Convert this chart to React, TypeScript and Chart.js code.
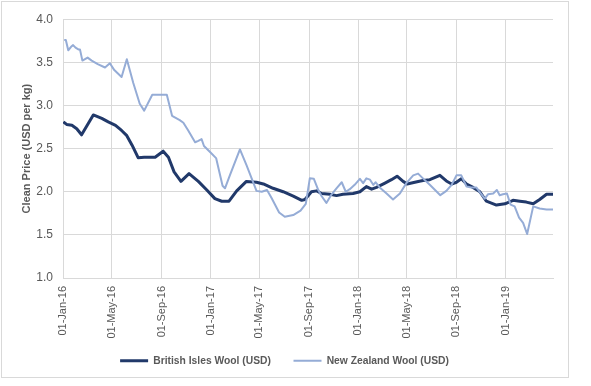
import React, { useEffect, useRef } from 'react';
import { Chart, registerables } from 'chart.js';

Chart.register(...registerables);

const biDates = [
  '2016-01-02', '2016-01-10', '2016-01-23', '2016-02-04', '2016-02-16', '2016-03-16', '2016-04-06', '2016-04-22',
  '2016-05-10', '2016-05-25', '2016-06-07', '2016-06-20', '2016-07-05', '2016-07-20', '2016-08-16', '2016-09-05',
  '2016-09-18', '2016-10-02', '2016-10-19', '2016-11-08', '2016-12-01', '2016-12-22', '2017-01-11', '2017-01-28',
  '2017-02-15', '2017-03-06', '2017-03-30', '2017-04-24', '2017-05-11', '2017-06-04', '2017-06-29', '2017-07-24',
  '2017-08-14', '2017-08-22', '2017-09-07', '2017-09-20', '2017-10-02', '2017-10-23', '2017-11-08', '2017-11-24',
  '2017-12-19', '2018-01-05', '2018-01-21', '2018-02-03', '2018-02-15', '2018-03-08', '2018-03-24', '2018-04-07',
  '2018-04-22', '2018-05-02', '2018-05-21', '2018-06-10', '2018-06-27', '2018-07-22', '2018-08-07', '2018-08-20',
  '2018-09-01', '2018-09-13', '2018-09-26', '2018-10-12', '2018-10-29', '2018-11-14', '2018-12-09', '2018-12-30',
  '2019-01-19', '2019-02-05', '2019-02-21', '2019-03-10', '2019-03-26', '2019-04-12', '2019-04-28',
];
const biValues = [
  2.81, 2.78, 2.77, 2.73, 2.66, 2.89, 2.85, 2.81,
  2.77, 2.71, 2.65, 2.54, 2.395, 2.40, 2.40, 2.47,
  2.40, 2.23, 2.12, 2.21, 2.12, 2.02, 1.92, 1.89,
  1.89, 2.01, 2.12, 2.11, 2.09, 2.04, 2.00, 1.95,
  1.90, 1.91, 2.00, 2.01, 1.98, 1.97, 1.955, 1.97,
  1.98, 2.00, 2.06, 2.03, 2.05, 2.10, 2.14, 2.18,
  2.12, 2.09, 2.11, 2.13, 2.14, 2.19, 2.125, 2.09,
  2.11, 2.15, 2.09, 2.05, 2.00, 1.89, 1.845, 1.86,
  1.90, 1.89, 1.88, 1.86, 1.91, 1.97, 1.97,
];

const nzDates = [
  '2016-01-04', '2016-01-08', '2016-01-14', '2016-01-21', '2016-01-26', '2016-02-01', '2016-02-08', '2016-02-12',
  '2016-02-18', '2016-03-02', '2016-03-12', '2016-03-27', '2016-04-14', '2016-04-26', '2016-05-07', '2016-05-25',
  '2016-06-07', '2016-06-23', '2016-07-09', '2016-07-20', '2016-08-09', '2016-09-14', '2016-09-27', '2016-10-16',
  '2016-10-25', '2016-11-06', '2016-11-23', '2016-12-01', '2016-12-09', '2016-12-15', '2016-12-30', '2017-01-14',
  '2017-01-30', '2017-02-05', '2017-02-17', '2017-03-14', '2017-03-30', '2017-04-12', '2017-04-24', '2017-05-07',
  '2017-05-20', '2017-05-31', '2017-06-19', '2017-07-03', '2017-07-24', '2017-08-11', '2017-08-24', '2017-09-03',
  '2017-09-13', '2017-09-24', '2017-10-02', '2017-10-14', '2017-10-27', '2017-11-08', '2017-11-21', '2017-12-01',
  '2017-12-11', '2017-12-23', '2018-01-05', '2018-01-13', '2018-01-21', '2018-01-30', '2018-02-07', '2018-02-13',
  '2018-02-23', '2018-03-12', '2018-03-28', '2018-04-14', '2018-04-30', '2018-05-17', '2018-05-29', '2018-06-10',
  '2018-06-27', '2018-07-23', '2018-08-07', '2018-08-20', '2018-09-01', '2018-09-13', '2018-09-26', '2018-10-08',
  '2018-10-20', '2018-11-02', '2018-11-10', '2018-11-18', '2018-12-01', '2018-12-10', '2018-12-17', '2018-12-25',
  '2019-01-04', '2019-01-13', '2019-01-23', '2019-02-03', '2019-02-13', '2019-02-23', '2019-03-10', '2019-03-26',
  '2019-04-12', '2019-04-28',
];
const nzValues = [
  3.76, 3.76, 3.64, 3.68, 3.70, 3.67, 3.65, 3.65,
  3.52, 3.555, 3.52, 3.48, 3.44, 3.49, 3.41, 3.33,
  3.535, 3.26, 3.02, 2.94, 3.125, 3.125, 2.88, 2.83,
  2.80, 2.71, 2.574, 2.59, 2.61, 2.53, 2.46, 2.39,
  2.07, 2.04, 2.19, 2.49, 2.31, 2.155, 2.01, 2.00,
  2.02, 1.93, 1.76, 1.71, 1.73, 1.78, 1.86, 2.155,
  2.15, 2.02, 1.95, 1.87, 1.97, 2.04, 2.11, 2.00,
  2.03, 2.08, 2.15, 2.10, 2.155, 2.14, 2.08, 2.11,
  2.05, 1.98, 1.91, 1.98, 2.10, 2.19, 2.21, 2.155,
  2.08, 1.96, 2.01, 2.08, 2.19, 2.19, 2.06, 2.05,
  2.05, 1.97, 1.92, 1.97, 1.98, 2.02, 1.96, 1.97,
  1.98, 1.85, 1.83, 1.70, 1.64, 1.51, 1.83, 1.805,
  1.795, 1.795,
];

const tickDates = [
  '2016-01-01', '2016-05-01', '2016-09-01', '2017-01-01', '2017-05-01',
  '2017-09-01', '2018-01-01', '2018-05-01', '2018-09-01', '2019-01-01',
];
const tickLabels = [
  '01-Jan-16', '01-May-16', '01-Sep-16', '01-Jan-17', '01-May-17',
  '01-Sep-17', '01-Jan-18', '01-May-18', '01-Sep-18', '01-Jan-19',
];
const xStart = '2016-01-01';
const xEnd = '2019-04-28';

const seriesNames = ['British Isles Wool (USD)', 'New Zealand Wool (USD)'];

const toDay = (s: string) => {
  const [y, m, d] = s.split('-').map(Number);
  const [y0, m0, d0] = xStart.split('-').map(Number);
  return Math.round((Date.UTC(y, m - 1, d) - Date.UTC(y0, m0 - 1, d0)) / 86400000);
};

const FONT = "'Liberation Sans', Arial, sans-serif";
const TEXT = '#595959';
const GRID = '#d9d9d9';
const BI_COLOR = '#21396a';
const NZ_COLOR = '#95acd6';

export default function App() {
  const ref = useRef<HTMLCanvasElement | null>(null);

  useEffect(() => {
    if (!ref.current) return;
    Chart.defaults.font.family = FONT;
    const tickDays = tickDates.map(toDay);
    const chart = new Chart(ref.current, {
      type: 'line',
      data: {
        datasets: [
          {
            label: seriesNames[0],
            data: biDates.map((d, i) => ({ x: toDay(d), y: biValues[i] })),
            borderColor: BI_COLOR,
            backgroundColor: BI_COLOR,
            borderWidth: 3,
            pointRadius: 0,
            tension: 0,
            borderJoinStyle: 'round',
            order: 1,
          },
          {
            label: seriesNames[1],
            data: nzDates.map((d, i) => ({ x: toDay(d), y: nzValues[i] })),
            borderColor: NZ_COLOR,
            backgroundColor: NZ_COLOR,
            borderWidth: 2,
            pointRadius: 0,
            tension: 0,
            borderJoinStyle: 'round',
            order: 0,
          },
        ],
      },
      options: {
        animation: false,
        responsive: false,
        layout: { padding: { left: 14, right: 14, top: 13, bottom: 0 } },
        plugins: {
          tooltip: { enabled: false },
          legend: {
            position: 'bottom',
            labels: {
              usePointStyle: true,
              pointStyle: 'line',
              pointStyleWidth: 28,
              padding: 14,
              color: TEXT,
              font: { family: FONT, size: 10.3, weight: 'bold' },
              sort: (a: any, b: any) => a.datasetIndex - b.datasetIndex,
              generateLabels: (c: any) => {
                const items = Chart.defaults.plugins.legend.labels.generateLabels(c);
                return items.map((it: any) =>
                  it.datasetIndex === 0 ? { ...it, text: it.text + '   ' } : it,
                );
              },
            },
          },
        },
        scales: {
          x: {
            type: 'linear',
            min: toDay(xStart),
            max: toDay(xEnd),
            afterBuildTicks: (scale: any) => {
              scale.ticks = tickDays.map((v) => ({ value: v }));
            },
            afterFit: (scale: any) => {
              scale.height = 63.7;
            },
            ticks: {
              autoSkip: false,
              minRotation: 90,
              maxRotation: 90,
              padding: 8,
              color: TEXT,
              font: { family: FONT, size: 11 },
              callback: (v: any) => {
                const idx = tickDays.indexOf(Number(v));
                return idx >= 0 ? tickLabels[idx] : '';
              },
            },
            grid: { color: GRID, lineWidth: 1, drawTicks: false },
            border: { color: GRID, width: 1 },
          },
          y: {
            min: 1,
            max: 4,
            afterFit: (scale: any) => {
              scale.width = 47;
            },
            ticks: {
              stepSize: 0.5,
              padding: 10,
              color: TEXT,
              font: { family: FONT, size: 12 },
              callback: (v: any) => Number(v).toFixed(1),
            },
            title: {
              display: true,
              text: 'Clean Price (USD per kg)',
              color: TEXT,
              font: { family: FONT, size: 11, weight: 'bold' },
              padding: { top: 4, bottom: 4 },
            },
            grid: { color: GRID, lineWidth: 1, drawTicks: false },
            border: { color: GRID, width: 1 },
          },
        },
      },
    } as any);
    return () => chart.destroy();
  }, []);

  return (
    <div style={{ position: 'absolute', left: 0, top: 0, width: 591, height: 386, background: '#ffffff', overflow: 'hidden' }}>
      <div
        style={{
          position: 'absolute',
          left: 1,
          top: 1,
          width: 568,
          height: 377,
          border: '1px solid #d9d9d9',
          boxSizing: 'border-box',
        }}
      />
      <canvas ref={ref} width={565} height={374} style={{ position: 'absolute', left: 2, top: 2, width: 565, height: 374 }} />
    </div>
  );
}
